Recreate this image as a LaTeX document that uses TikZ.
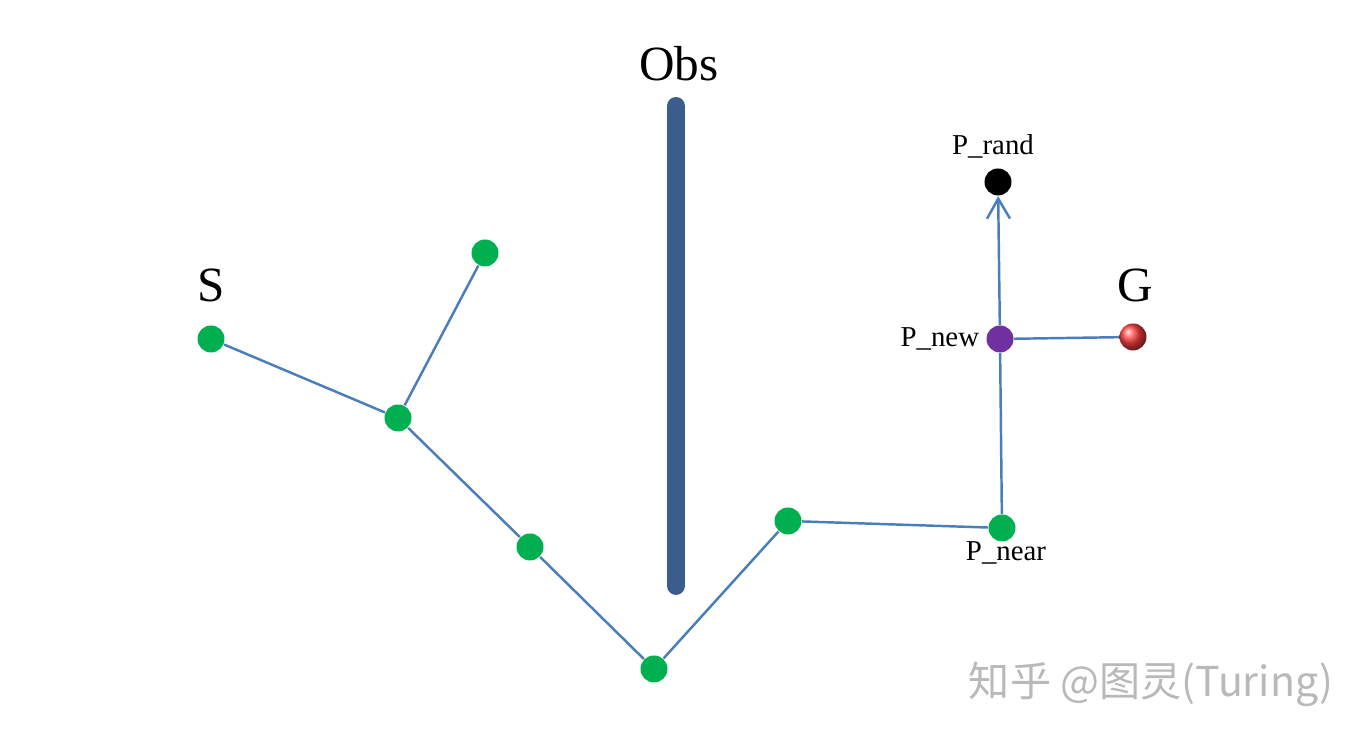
\documentclass[tikz,border=0pt]{standalone}
\usepackage{fontspec}
\setmainfont{Liberation Serif}
\newfontfamily\cjkfont{Noto Sans CJK SC}
\usepackage{xcolor}
\usetikzlibrary{positioning, arrows.meta}
\definecolor{treegreen}{HTML}{00B050}
\definecolor{edgeblue}{HTML}{4A7EBB}
\definecolor{obsblue}{HTML}{3A5D8C}
\definecolor{newpurple}{HTML}{7030A0}

\begin{document}
\begin{tikzpicture}[
  dot/.style={circle, inner sep=0pt, minimum size=0.27cm, fill=treegreen},
  edge/.style={draw=edgeblue, line width=0.7pt},
  lbl/.style={font=\fontsize{8.2}{10}\selectfont, inner sep=0pt},
  big/.style={font=\fontsize{14}{17}\selectfont, inner sep=0pt},
]
  \useasboundingbox (0,0) rectangle (13.64,7.43);

  % Obstacle
  \draw[obsblue, line width=5.1pt, line cap=round] (6.76,6.37) -- (6.76,1.57);
  \node[big] (obs) at (6.79,6.79) {Obs};

  % Tree nodes
  \node[dot] (s) at (2.11,4.04) {};
  \node[dot] (n1) at (3.98,3.25) {};
  \node[dot] (n2) at (4.85,4.90) {};
  \node[dot] (n3) at (5.30,1.96) {};
  \node[dot] (n4) at (6.54,0.74) {};
  \node[dot] (n5) at (7.88,2.22) {};
  \node[dot] (near) at (10.02,2.15) {};
  \node[dot, fill=newpurple] (new) at (10.00,4.04) {};
  \node[dot, fill=none, shading=ball, ball color=red!75!white] (g) at (11.33,4.06) {};
  \node[dot, fill=black] (rand) at (9.98,5.61) {};

  % Edges of the tree
  \draw[edge] (s) -- (n1);
  \draw[edge] (n1) -- (n2);
  \draw[edge] (n1) -- (n3);
  \draw[edge] (n3) -- (n4);
  \draw[edge] (n4) -- (n5);
  \draw[edge] (n5) -- (near);
  \draw[edge] (near) -- (new);
  \draw[edge] (new) -- (g);
  \draw[edge, -{Straight Barb[length=0.2cm, width=0.23cm]}] (new) -- (rand);

  % Labels
  \node[big] (slbl) at (2.11,4.58) {S};
  \node[big] (glbl) at (11.35,4.58) {G};
  \node[lbl] (randlbl) at (9.93,5.97) {P\_rand};
  \node[lbl, left=0.06cm of new] (newlbl) {P\_new};
  \node[lbl] (nearlbl) at (10.06,1.90) {P\_near};

  % Watermark
  \node[font=\cjkfont\fontsize{11.7}{14}\selectfont, text=gray!55] (mark) at (11.51,0.59) {知乎 @图灵(Turing)};
\end{tikzpicture}
\end{document}
